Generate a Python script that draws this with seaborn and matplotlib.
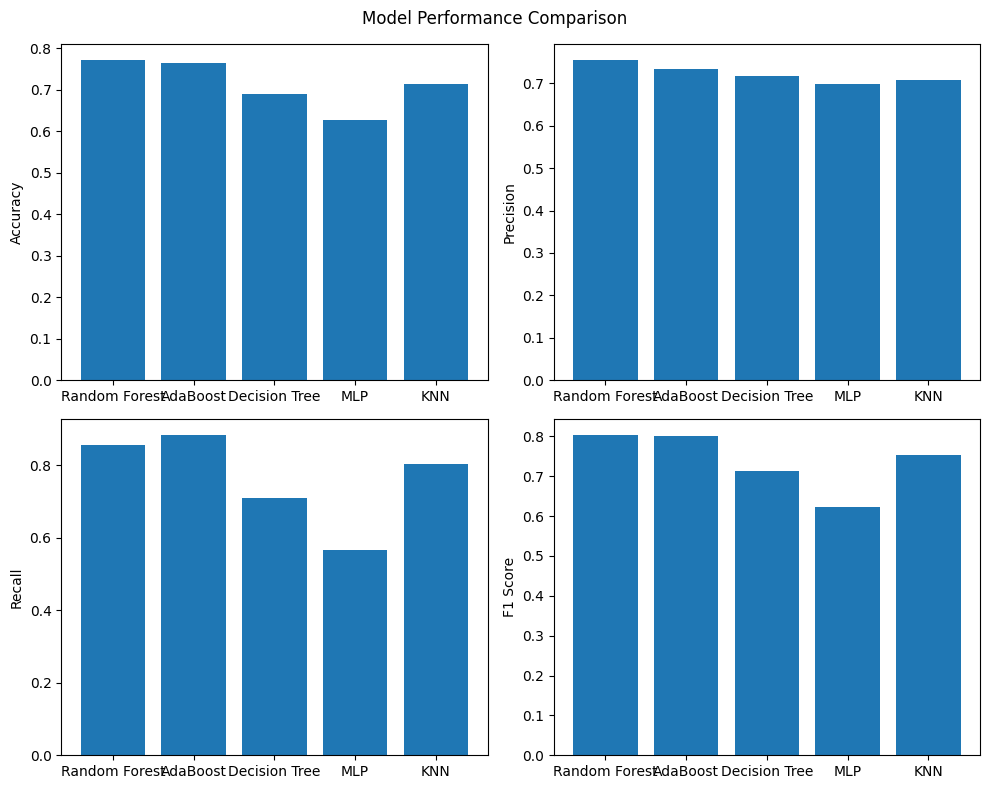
import pandas as pd
import matplotlib
matplotlib.use("Agg")
import matplotlib.pyplot as plt
import seaborn as sns

# values
models = ['Random Forest', 'AdaBoost', 'Decision Tree', 'MLP', 'KNN']
accuracy = [0.771, 0.764, 0.689, 0.628, 0.713]
precision = [0.754, 0.733, 0.717, 0.698, 0.708]
recall = [0.856, 0.883, 0.710, 0.565, 0.804]
f1_score = [0.803, 0.801, 0.713, 0.623, 0.753]

metrics = [
    ('Accuracy', accuracy),
    ('Precision', precision),
    ('Recall', recall),
    ('F1 Score', f1_score),
]

fig, axes = plt.subplots(2, 2, figsize=(10, 8), dpi=100)

for ax, (name, vals) in zip(axes.flat, metrics):
    df = pd.DataFrame({'Model': models, name: vals})
    sns.barplot(data=df, x='Model', y=name, color='#1f77b4', saturation=1,
                width=0.8, ax=ax)
    ax.set_xlim(-0.64, 4.64)
    ax.set_xlabel('')
    ax.set_ylabel(name)

fig.suptitle('Model Performance Comparison')
plt.tight_layout()
plt.savefig('out.png', bbox_inches='tight')
